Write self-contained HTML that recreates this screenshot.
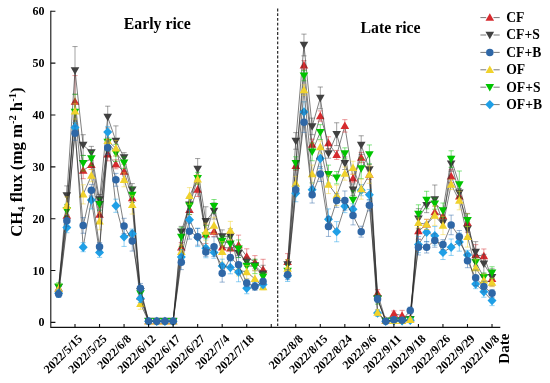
<!DOCTYPE html>
<html><head><meta charset="utf-8"><title>CH4 flux</title><style>html,body{margin:0;padding:0;background:#fff}svg{display:block}</style></head><body>
<svg width="550" height="383" viewBox="0 0 550 383" font-family="'Liberation Serif', serif" font-weight="bold" fill="#000">
<rect width="550" height="383" fill="#fff"/>
<line x1="277.7" y1="8.6" x2="277.7" y2="326" stroke="#111" stroke-width="1.1" stroke-dasharray="2.8 1.9"/>
<polyline points="58.65,288.18 66.83,215.59 75.00,101.52 83.18,170.48 91.36,164.78 99.53,214.55 107.71,154.41 115.89,164.26 124.07,171.52 132.24,197.96 140.42,296.47 148.60,321.10 156.77,321.10 164.95,321.10 173.13,321.10 181.31,247.22 189.48,209.89 197.66,189.66 205.84,234.25 214.01,231.66 222.19,247.22 230.37,248.25 238.54,245.14 246.72,256.55 254.90,262.25 263.07,269.51" fill="none" stroke="#2a2a2a" stroke-width="0.6" stroke-linejoin="round"/>
<path d="M58.65 284.58V291.78M56.05 284.58h5.2M56.05 291.78h5.2M66.83 210.50V220.68M64.23 210.50h5.2M64.23 220.68h5.2M75.00 75.59V127.44M72.40 75.59h5.2M72.40 127.44h5.2M83.18 162.28V178.68M80.58 162.28h5.2M80.58 178.68h5.2M91.36 160.18V169.37M88.76 160.18h5.2M88.76 169.37h5.2M99.53 207.07V222.03M96.94 207.07h5.2M96.94 222.03h5.2M107.71 147.98V160.83M105.11 147.98h5.2M105.11 160.83h5.2M115.89 159.75V168.77M113.29 159.75h5.2M113.29 168.77h5.2M124.07 164.21V178.82M121.47 164.21h5.2M121.47 178.82h5.2M132.24 193.58V202.34M129.64 193.58h5.2M129.64 202.34h5.2M140.42 292.53V300.42M137.82 292.53h5.2M137.82 300.42h5.2M148.60 320.33V321.88M146.00 320.33h5.2M146.00 321.88h5.2M156.77 320.33V321.88M154.17 320.33h5.2M154.17 321.88h5.2M164.95 320.33V321.88M162.35 320.33h5.2M162.35 321.88h5.2M173.13 320.33V321.88M170.53 320.33h5.2M170.53 321.88h5.2M181.31 242.63V251.80M178.71 242.63h5.2M178.71 251.80h5.2M189.48 205.17V214.60M186.88 205.17h5.2M186.88 214.60h5.2M197.66 182.87V196.45M195.06 182.87h5.2M195.06 196.45h5.2M205.84 224.96V243.55M203.24 224.96h5.2M203.24 243.55h5.2M214.01 226.74V236.58M211.41 226.74h5.2M211.41 236.58h5.2M222.19 241.68V252.75M219.59 241.68h5.2M219.59 252.75h5.2M230.37 240.20V256.31M227.77 240.20h5.2M227.77 256.31h5.2M238.54 235.10V255.19M235.94 235.10h5.2M235.94 255.19h5.2M246.72 248.81V264.29M244.12 248.81h5.2M244.12 264.29h5.2M254.90 255.64V268.87M252.30 255.64h5.2M252.30 268.87h5.2M263.07 259.29V279.74M260.47 259.29h5.2M260.47 279.74h5.2" fill="none" stroke="#d62a2e" stroke-width="0.65" stroke-opacity="0.75"/>
<path d="M54.35 291.38L62.95 291.38L58.65 283.88Z" fill="#d62a2e"/>
<path d="M62.53 218.79L71.13 218.79L66.83 211.29Z" fill="#d62a2e"/>
<path d="M70.70 104.72L79.30 104.72L75.00 97.22Z" fill="#d62a2e"/>
<path d="M78.88 173.68L87.48 173.68L83.18 166.18Z" fill="#d62a2e"/>
<path d="M87.06 167.98L95.66 167.98L91.36 160.48Z" fill="#d62a2e"/>
<path d="M95.23 217.75L103.83 217.75L99.53 210.25Z" fill="#d62a2e"/>
<path d="M103.41 157.61L112.01 157.61L107.71 150.11Z" fill="#d62a2e"/>
<path d="M111.59 167.46L120.19 167.46L115.89 159.96Z" fill="#d62a2e"/>
<path d="M119.77 174.72L128.37 174.72L124.07 167.22Z" fill="#d62a2e"/>
<path d="M127.94 201.16L136.54 201.16L132.24 193.66Z" fill="#d62a2e"/>
<path d="M136.12 299.67L144.72 299.67L140.42 292.17Z" fill="#d62a2e"/>
<path d="M144.30 324.30L152.90 324.30L148.60 316.80Z" fill="#d62a2e"/>
<path d="M152.47 324.30L161.07 324.30L156.77 316.80Z" fill="#d62a2e"/>
<path d="M160.65 324.30L169.25 324.30L164.95 316.80Z" fill="#d62a2e"/>
<path d="M168.83 324.30L177.43 324.30L173.13 316.80Z" fill="#d62a2e"/>
<path d="M177.00 250.42L185.61 250.42L181.31 242.92Z" fill="#d62a2e"/>
<path d="M185.18 213.09L193.78 213.09L189.48 205.59Z" fill="#d62a2e"/>
<path d="M193.36 192.86L201.96 192.86L197.66 185.36Z" fill="#d62a2e"/>
<path d="M201.54 237.45L210.14 237.45L205.84 229.95Z" fill="#d62a2e"/>
<path d="M209.71 234.86L218.31 234.86L214.01 227.36Z" fill="#d62a2e"/>
<path d="M217.89 250.42L226.49 250.42L222.19 242.92Z" fill="#d62a2e"/>
<path d="M226.07 251.45L234.67 251.45L230.37 243.95Z" fill="#d62a2e"/>
<path d="M234.24 248.34L242.84 248.34L238.54 240.84Z" fill="#d62a2e"/>
<path d="M242.42 259.75L251.02 259.75L246.72 252.25Z" fill="#d62a2e"/>
<path d="M250.60 265.45L259.20 265.45L254.90 257.95Z" fill="#d62a2e"/>
<path d="M258.77 272.71L267.38 272.71L263.07 265.21Z" fill="#d62a2e"/>
<polyline points="58.65,287.14 66.83,195.37 75.00,70.41 83.18,145.07 91.36,152.33 99.53,199.52 107.71,117.07 115.89,140.92 124.07,157.52 132.24,189.66 140.42,291.29 148.60,320.84 156.77,320.84 164.95,320.84 173.13,320.84 181.31,231.66 189.48,204.70 197.66,168.92 205.84,221.29 214.01,210.92 222.19,236.33 230.37,236.33 238.54,252.92 246.72,261.74 254.90,265.37 263.07,273.66" fill="none" stroke="#2a2a2a" stroke-width="0.6" stroke-linejoin="round"/>
<path d="M58.65 284.40V289.88M56.05 284.40h5.2M56.05 289.88h5.2M66.83 185.88V204.86M64.23 185.88h5.2M64.23 204.86h5.2M75.00 46.56V94.26M72.40 46.56h5.2M72.40 94.26h5.2M83.18 134.70V155.44M80.58 134.70h5.2M80.58 155.44h5.2M91.36 146.38V158.28M88.76 146.38h5.2M88.76 158.28h5.2M99.53 194.47V204.56M96.94 194.47h5.2M96.94 204.56h5.2M107.71 106.19V127.96M105.11 106.19h5.2M105.11 127.96h5.2M115.89 125.89V155.96M113.29 125.89h5.2M113.29 155.96h5.2M124.07 152.64V162.40M121.47 152.64h5.2M121.47 162.40h5.2M132.24 183.60V195.73M129.64 183.60h5.2M129.64 195.73h5.2M140.42 286.16V296.42M137.82 286.16h5.2M137.82 296.42h5.2M148.60 320.07V321.62M146.00 320.07h5.2M146.00 321.62h5.2M156.77 320.07V321.62M154.17 320.07h5.2M154.17 321.62h5.2M164.95 320.07V321.62M162.35 320.07h5.2M162.35 321.62h5.2M173.13 320.07V321.62M170.53 320.07h5.2M170.53 321.62h5.2M181.31 226.39V236.93M178.71 226.39h5.2M178.71 236.93h5.2M189.48 196.93V212.47M186.88 196.93h5.2M186.88 212.47h5.2M197.66 158.55V179.29M195.06 158.55h5.2M195.06 179.29h5.2M205.84 206.77V235.81M203.24 206.77h5.2M203.24 235.81h5.2M214.01 202.80V219.05M211.41 202.80h5.2M211.41 219.05h5.2M222.19 229.86V242.79M219.59 229.86h5.2M219.59 242.79h5.2M230.37 228.77V243.89M227.77 228.77h5.2M227.77 243.89h5.2M238.54 248.38V257.46M235.94 248.38h5.2M235.94 257.46h5.2M246.72 257.22V266.25M244.12 257.22h5.2M244.12 266.25h5.2M254.90 259.94V270.79M252.30 259.94h5.2M252.30 270.79h5.2M263.07 265.28V282.04M260.47 265.28h5.2M260.47 282.04h5.2" fill="none" stroke="#414141" stroke-width="0.65" stroke-opacity="0.75"/>
<path d="M54.35 283.94L62.95 283.94L58.65 291.44Z" fill="#414141"/>
<path d="M62.53 192.17L71.13 192.17L66.83 199.67Z" fill="#414141"/>
<path d="M70.70 67.21L79.30 67.21L75.00 74.71Z" fill="#414141"/>
<path d="M78.88 141.87L87.48 141.87L83.18 149.37Z" fill="#414141"/>
<path d="M87.06 149.13L95.66 149.13L91.36 156.63Z" fill="#414141"/>
<path d="M95.23 196.32L103.83 196.32L99.53 203.82Z" fill="#414141"/>
<path d="M103.41 113.87L112.01 113.87L107.71 121.37Z" fill="#414141"/>
<path d="M111.59 137.72L120.19 137.72L115.89 145.22Z" fill="#414141"/>
<path d="M119.77 154.32L128.37 154.32L124.07 161.82Z" fill="#414141"/>
<path d="M127.94 186.46L136.54 186.46L132.24 193.96Z" fill="#414141"/>
<path d="M136.12 288.09L144.72 288.09L140.42 295.59Z" fill="#414141"/>
<path d="M144.30 317.64L152.90 317.64L148.60 325.14Z" fill="#414141"/>
<path d="M152.47 317.64L161.07 317.64L156.77 325.14Z" fill="#414141"/>
<path d="M160.65 317.64L169.25 317.64L164.95 325.14Z" fill="#414141"/>
<path d="M168.83 317.64L177.43 317.64L173.13 325.14Z" fill="#414141"/>
<path d="M177.00 228.46L185.61 228.46L181.31 235.96Z" fill="#414141"/>
<path d="M185.18 201.50L193.78 201.50L189.48 209.00Z" fill="#414141"/>
<path d="M193.36 165.72L201.96 165.72L197.66 173.22Z" fill="#414141"/>
<path d="M201.54 218.09L210.14 218.09L205.84 225.59Z" fill="#414141"/>
<path d="M209.71 207.72L218.31 207.72L214.01 215.22Z" fill="#414141"/>
<path d="M217.89 233.13L226.49 233.13L222.19 240.63Z" fill="#414141"/>
<path d="M226.07 233.13L234.67 233.13L230.37 240.63Z" fill="#414141"/>
<path d="M234.24 249.72L242.84 249.72L238.54 257.22Z" fill="#414141"/>
<path d="M242.42 258.54L251.02 258.54L246.72 266.04Z" fill="#414141"/>
<path d="M250.60 262.17L259.20 262.17L254.90 269.67Z" fill="#414141"/>
<path d="M258.77 270.46L267.38 270.46L263.07 277.96Z" fill="#414141"/>
<polyline points="58.65,286.62 66.83,210.40 75.00,111.89 83.18,163.22 91.36,158.55 99.53,204.18 107.71,141.96 115.89,152.85 124.07,162.70 132.24,194.85 140.42,293.36 148.60,321.10 156.77,321.10 164.95,321.10 173.13,321.10 181.31,236.85 189.48,205.74 197.66,178.26 205.84,235.81 214.01,206.26 222.19,241.00 230.37,243.59 238.54,248.77 246.72,265.88 254.90,266.40 263.07,276.77" fill="none" stroke="#2a2a2a" stroke-width="0.6" stroke-linejoin="round"/>
<path d="M58.65 282.70V290.55M56.05 282.70h5.2M56.05 290.55h5.2M66.83 204.30V216.51M64.23 204.30h5.2M64.23 216.51h5.2M75.00 94.26V129.52M72.40 94.26h5.2M72.40 129.52h5.2M83.18 155.43V171.01M80.58 155.43h5.2M80.58 171.01h5.2M91.36 151.59V165.52M88.76 151.59h5.2M88.76 165.52h5.2M99.53 198.17V210.20M96.94 198.17h5.2M96.94 210.20h5.2M107.71 132.87V151.05M105.11 132.87h5.2M105.11 151.05h5.2M115.89 144.35V161.35M113.29 144.35h5.2M113.29 161.35h5.2M124.07 157.04V168.37M121.47 157.04h5.2M121.47 168.37h5.2M132.24 187.13V202.57M129.64 187.13h5.2M129.64 202.57h5.2M140.42 289.14V297.59M137.82 289.14h5.2M137.82 297.59h5.2M148.60 320.33V321.88M146.00 320.33h5.2M146.00 321.88h5.2M156.77 320.33V321.88M154.17 320.33h5.2M154.17 321.88h5.2M164.95 320.33V321.88M162.35 320.33h5.2M162.35 321.88h5.2M173.13 320.33V321.88M170.53 320.33h5.2M170.53 321.88h5.2M181.31 227.25V246.44M178.71 227.25h5.2M178.71 246.44h5.2M189.48 197.05V214.42M186.88 197.05h5.2M186.88 214.42h5.2M197.66 172.32V184.20M195.06 172.32h5.2M195.06 184.20h5.2M205.84 225.56V246.06M203.24 225.56h5.2M203.24 246.06h5.2M214.01 199.52V213.00M211.41 199.52h5.2M211.41 213.00h5.2M222.19 236.11V245.88M219.59 236.11h5.2M219.59 245.88h5.2M230.37 236.84V250.34M227.77 236.84h5.2M227.77 250.34h5.2M238.54 239.91V257.63M235.94 239.91h5.2M235.94 257.63h5.2M246.72 260.79V270.98M244.12 260.79h5.2M244.12 270.98h5.2M254.90 259.21V273.59M252.30 259.21h5.2M252.30 273.59h5.2M263.07 272.38V281.16M260.47 272.38h5.2M260.47 281.16h5.2" fill="none" stroke="#00c400" stroke-width="0.65" stroke-opacity="0.75"/>
<path d="M54.35 283.42L62.95 283.42L58.65 290.92Z" fill="#00c400"/>
<path d="M62.53 207.20L71.13 207.20L66.83 214.70Z" fill="#00c400"/>
<path d="M70.70 108.69L79.30 108.69L75.00 116.19Z" fill="#00c400"/>
<path d="M78.88 160.02L87.48 160.02L83.18 167.52Z" fill="#00c400"/>
<path d="M87.06 155.35L95.66 155.35L91.36 162.85Z" fill="#00c400"/>
<path d="M95.23 200.98L103.83 200.98L99.53 208.48Z" fill="#00c400"/>
<path d="M103.41 138.76L112.01 138.76L107.71 146.26Z" fill="#00c400"/>
<path d="M111.59 149.65L120.19 149.65L115.89 157.15Z" fill="#00c400"/>
<path d="M119.77 159.50L128.37 159.50L124.07 167.00Z" fill="#00c400"/>
<path d="M127.94 191.65L136.54 191.65L132.24 199.15Z" fill="#00c400"/>
<path d="M136.12 290.16L144.72 290.16L140.42 297.66Z" fill="#00c400"/>
<path d="M144.30 317.90L152.90 317.90L148.60 325.40Z" fill="#00c400"/>
<path d="M152.47 317.90L161.07 317.90L156.77 325.40Z" fill="#00c400"/>
<path d="M160.65 317.90L169.25 317.90L164.95 325.40Z" fill="#00c400"/>
<path d="M168.83 317.90L177.43 317.90L173.13 325.40Z" fill="#00c400"/>
<path d="M177.00 233.65L185.61 233.65L181.31 241.15Z" fill="#00c400"/>
<path d="M185.18 202.54L193.78 202.54L189.48 210.04Z" fill="#00c400"/>
<path d="M193.36 175.06L201.96 175.06L197.66 182.56Z" fill="#00c400"/>
<path d="M201.54 232.61L210.14 232.61L205.84 240.11Z" fill="#00c400"/>
<path d="M209.71 203.06L218.31 203.06L214.01 210.56Z" fill="#00c400"/>
<path d="M217.89 237.80L226.49 237.80L222.19 245.30Z" fill="#00c400"/>
<path d="M226.07 240.39L234.67 240.39L230.37 247.89Z" fill="#00c400"/>
<path d="M234.24 245.57L242.84 245.57L238.54 253.07Z" fill="#00c400"/>
<path d="M242.42 262.68L251.02 262.68L246.72 270.18Z" fill="#00c400"/>
<path d="M250.60 263.20L259.20 263.20L254.90 270.70Z" fill="#00c400"/>
<path d="M258.77 273.57L267.38 273.57L263.07 281.07Z" fill="#00c400"/>
<polyline points="58.65,288.70 66.83,205.74 75.00,111.37 83.18,194.33 91.36,175.66 99.53,221.29 107.71,140.92 115.89,148.18 124.07,179.81 132.24,204.70 140.42,303.73 148.60,321.36 156.77,321.36 164.95,321.36 173.13,321.36 181.31,251.88 189.48,195.89 197.66,179.29 205.84,231.66 214.01,225.44 222.19,251.88 230.37,230.63 238.54,270.03 246.72,272.11 254.90,278.85 263.07,287.14" fill="none" stroke="#2a2a2a" stroke-width="0.6" stroke-linejoin="round"/>
<path d="M58.65 284.03V293.37M56.05 284.03h5.2M56.05 293.37h5.2M66.83 196.83V214.64M64.23 196.83h5.2M64.23 214.64h5.2M75.00 103.66V119.08M72.40 103.66h5.2M72.40 119.08h5.2M83.18 184.74V203.93M80.58 184.74h5.2M80.58 203.93h5.2M91.36 169.56V181.76M88.76 169.56h5.2M88.76 181.76h5.2M99.53 212.82V229.77M96.94 212.82h5.2M96.94 229.77h5.2M107.71 133.08V148.77M105.11 133.08h5.2M105.11 148.77h5.2M115.89 140.43V155.94M113.29 140.43h5.2M113.29 155.94h5.2M124.07 172.83V186.80M121.47 172.83h5.2M121.47 186.80h5.2M132.24 195.33V214.07M129.64 195.33h5.2M129.64 214.07h5.2M140.42 298.20V309.27M137.82 298.20h5.2M137.82 309.27h5.2M148.60 320.59V322.14M146.00 320.59h5.2M146.00 322.14h5.2M156.77 320.59V322.14M154.17 320.59h5.2M154.17 322.14h5.2M164.95 320.59V322.14M162.35 320.59h5.2M162.35 322.14h5.2M173.13 320.59V322.14M170.53 320.59h5.2M170.53 322.14h5.2M181.31 244.79V258.98M178.71 244.79h5.2M178.71 258.98h5.2M189.48 187.61V204.17M186.88 187.61h5.2M186.88 204.17h5.2M197.66 174.77V183.82M195.06 174.77h5.2M195.06 183.82h5.2M205.84 223.15V240.18M203.24 223.15h5.2M203.24 240.18h5.2M214.01 217.27V233.61M211.41 217.27h5.2M211.41 233.61h5.2M222.19 241.56V262.21M219.59 241.56h5.2M219.59 262.21h5.2M230.37 221.36V239.89M227.77 221.36h5.2M227.77 239.89h5.2M238.54 264.11V275.95M235.94 264.11h5.2M235.94 275.95h5.2M246.72 265.56V278.65M244.12 265.56h5.2M244.12 278.65h5.2M254.90 270.54V287.15M252.30 270.54h5.2M252.30 287.15h5.2M263.07 284.48V289.80M260.47 284.48h5.2M260.47 289.80h5.2" fill="none" stroke="#f0d22c" stroke-width="0.65" stroke-opacity="0.75"/>
<path d="M54.35 291.90L62.95 291.90L58.65 284.40Z" fill="#f0d22c"/>
<path d="M62.53 208.94L71.13 208.94L66.83 201.44Z" fill="#f0d22c"/>
<path d="M70.70 114.57L79.30 114.57L75.00 107.07Z" fill="#f0d22c"/>
<path d="M78.88 197.53L87.48 197.53L83.18 190.03Z" fill="#f0d22c"/>
<path d="M87.06 178.86L95.66 178.86L91.36 171.36Z" fill="#f0d22c"/>
<path d="M95.23 224.49L103.83 224.49L99.53 216.99Z" fill="#f0d22c"/>
<path d="M103.41 144.12L112.01 144.12L107.71 136.62Z" fill="#f0d22c"/>
<path d="M111.59 151.38L120.19 151.38L115.89 143.88Z" fill="#f0d22c"/>
<path d="M119.77 183.01L128.37 183.01L124.07 175.51Z" fill="#f0d22c"/>
<path d="M127.94 207.90L136.54 207.90L132.24 200.40Z" fill="#f0d22c"/>
<path d="M136.12 306.93L144.72 306.93L140.42 299.43Z" fill="#f0d22c"/>
<path d="M144.30 324.56L152.90 324.56L148.60 317.06Z" fill="#f0d22c"/>
<path d="M152.47 324.56L161.07 324.56L156.77 317.06Z" fill="#f0d22c"/>
<path d="M160.65 324.56L169.25 324.56L164.95 317.06Z" fill="#f0d22c"/>
<path d="M168.83 324.56L177.43 324.56L173.13 317.06Z" fill="#f0d22c"/>
<path d="M177.00 255.08L185.61 255.08L181.31 247.58Z" fill="#f0d22c"/>
<path d="M185.18 199.09L193.78 199.09L189.48 191.59Z" fill="#f0d22c"/>
<path d="M193.36 182.49L201.96 182.49L197.66 174.99Z" fill="#f0d22c"/>
<path d="M201.54 234.86L210.14 234.86L205.84 227.36Z" fill="#f0d22c"/>
<path d="M209.71 228.64L218.31 228.64L214.01 221.14Z" fill="#f0d22c"/>
<path d="M217.89 255.08L226.49 255.08L222.19 247.58Z" fill="#f0d22c"/>
<path d="M226.07 233.83L234.67 233.83L230.37 226.33Z" fill="#f0d22c"/>
<path d="M234.24 273.23L242.84 273.23L238.54 265.73Z" fill="#f0d22c"/>
<path d="M242.42 275.31L251.02 275.31L246.72 267.81Z" fill="#f0d22c"/>
<path d="M250.60 282.05L259.20 282.05L254.90 274.55Z" fill="#f0d22c"/>
<path d="M258.77 290.34L267.38 290.34L263.07 282.84Z" fill="#f0d22c"/>
<polyline points="58.65,293.36 66.83,227.51 75.00,127.44 83.18,247.22 91.36,200.03 99.53,252.40 107.71,132.11 115.89,205.74 124.07,236.85 132.24,233.74 140.42,298.55 148.60,321.36 156.77,321.36 164.95,321.36 173.13,321.36 181.31,257.07 189.48,219.74 197.66,237.37 205.84,248.25 214.01,252.40 222.19,265.88 230.37,267.44 238.54,272.11 246.72,288.18 254.90,286.10 263.07,284.55" fill="none" stroke="#2a2a2a" stroke-width="0.6" stroke-linejoin="round"/>
<path d="M58.65 289.34V297.39M56.05 289.34h5.2M56.05 297.39h5.2M66.83 222.32V232.71M64.23 222.32h5.2M64.23 232.71h5.2M75.00 122.57V132.32M72.40 122.57h5.2M72.40 132.32h5.2M83.18 242.70V251.73M80.58 242.70h5.2M80.58 251.73h5.2M91.36 191.11V208.96M88.76 191.11h5.2M88.76 208.96h5.2M99.53 247.45V257.36M96.94 247.45h5.2M96.94 257.36h5.2M107.71 126.42V137.80M105.11 126.42h5.2M105.11 137.80h5.2M115.89 199.16V212.32M113.29 199.16h5.2M113.29 212.32h5.2M124.07 227.28V246.42M121.47 227.28h5.2M121.47 246.42h5.2M132.24 229.09V238.39M129.64 229.09h5.2M129.64 238.39h5.2M140.42 294.56V302.54M137.82 294.56h5.2M137.82 302.54h5.2M148.60 320.59V322.14M146.00 320.59h5.2M146.00 322.14h5.2M156.77 320.59V322.14M154.17 320.59h5.2M154.17 322.14h5.2M164.95 320.59V322.14M162.35 320.59h5.2M162.35 322.14h5.2M173.13 320.59V322.14M170.53 320.59h5.2M170.53 322.14h5.2M181.31 249.50V264.64M178.71 249.50h5.2M178.71 264.64h5.2M189.48 210.09V229.38M186.88 210.09h5.2M186.88 229.38h5.2M197.66 228.12V246.61M195.06 228.12h5.2M195.06 246.61h5.2M205.84 238.73V257.78M203.24 238.73h5.2M203.24 257.78h5.2M214.01 246.52V258.28M211.41 246.52h5.2M211.41 258.28h5.2M222.19 259.15V272.62M219.59 259.15h5.2M219.59 272.62h5.2M230.37 261.06V273.82M227.77 261.06h5.2M227.77 273.82h5.2M238.54 262.46V281.75M235.94 262.46h5.2M235.94 281.75h5.2M246.72 282.61V293.75M244.12 282.61h5.2M244.12 293.75h5.2M254.90 283.04V289.17M252.30 283.04h5.2M252.30 289.17h5.2M263.07 281.41V287.69M260.47 281.41h5.2M260.47 287.69h5.2" fill="none" stroke="#1f9fe6" stroke-width="0.65" stroke-opacity="0.75"/>
<path d="M54.15 293.36L58.65 288.66L63.15 293.36L58.65 298.06Z" fill="#1f9fe6"/>
<path d="M62.33 227.51L66.83 222.81L71.33 227.51L66.83 232.21Z" fill="#1f9fe6"/>
<path d="M70.50 127.44L75.00 122.74L79.50 127.44L75.00 132.14Z" fill="#1f9fe6"/>
<path d="M78.68 247.22L83.18 242.52L87.68 247.22L83.18 251.92Z" fill="#1f9fe6"/>
<path d="M86.86 200.03L91.36 195.33L95.86 200.03L91.36 204.73Z" fill="#1f9fe6"/>
<path d="M95.03 252.40L99.53 247.70L104.03 252.40L99.53 257.10Z" fill="#1f9fe6"/>
<path d="M103.21 132.11L107.71 127.41L112.21 132.11L107.71 136.81Z" fill="#1f9fe6"/>
<path d="M111.39 205.74L115.89 201.04L120.39 205.74L115.89 210.44Z" fill="#1f9fe6"/>
<path d="M119.57 236.85L124.07 232.15L128.57 236.85L124.07 241.55Z" fill="#1f9fe6"/>
<path d="M127.74 233.74L132.24 229.04L136.74 233.74L132.24 238.44Z" fill="#1f9fe6"/>
<path d="M135.92 298.55L140.42 293.85L144.92 298.55L140.42 303.25Z" fill="#1f9fe6"/>
<path d="M144.10 321.36L148.60 316.66L153.10 321.36L148.60 326.06Z" fill="#1f9fe6"/>
<path d="M152.27 321.36L156.77 316.66L161.27 321.36L156.77 326.06Z" fill="#1f9fe6"/>
<path d="M160.45 321.36L164.95 316.66L169.45 321.36L164.95 326.06Z" fill="#1f9fe6"/>
<path d="M168.63 321.36L173.13 316.66L177.63 321.36L173.13 326.06Z" fill="#1f9fe6"/>
<path d="M176.81 257.07L181.31 252.37L185.81 257.07L181.31 261.77Z" fill="#1f9fe6"/>
<path d="M184.98 219.74L189.48 215.04L193.98 219.74L189.48 224.44Z" fill="#1f9fe6"/>
<path d="M193.16 237.37L197.66 232.67L202.16 237.37L197.66 242.07Z" fill="#1f9fe6"/>
<path d="M201.34 248.25L205.84 243.55L210.34 248.25L205.84 252.95Z" fill="#1f9fe6"/>
<path d="M209.51 252.40L214.01 247.70L218.51 252.40L214.01 257.10Z" fill="#1f9fe6"/>
<path d="M217.69 265.88L222.19 261.18L226.69 265.88L222.19 270.58Z" fill="#1f9fe6"/>
<path d="M225.87 267.44L230.37 262.74L234.87 267.44L230.37 272.14Z" fill="#1f9fe6"/>
<path d="M234.04 272.11L238.54 267.41L243.04 272.11L238.54 276.81Z" fill="#1f9fe6"/>
<path d="M242.22 288.18L246.72 283.48L251.22 288.18L246.72 292.88Z" fill="#1f9fe6"/>
<path d="M250.40 286.10L254.90 281.40L259.40 286.10L254.90 290.80Z" fill="#1f9fe6"/>
<path d="M258.57 284.55L263.07 279.85L267.57 284.55L263.07 289.25Z" fill="#1f9fe6"/>
<polyline points="58.65,293.88 66.83,220.77 75.00,133.15 83.18,225.44 91.36,190.18 99.53,246.70 107.71,147.67 115.89,179.81 124.07,225.96 132.24,241.00 140.42,288.18 148.60,321.36 156.77,321.36 164.95,321.36 173.13,321.36 181.31,262.25 189.48,231.14 197.66,236.85 205.84,251.88 214.01,246.70 222.19,273.14 230.37,257.59 238.54,264.85 246.72,282.99 254.90,286.62 263.07,281.44" fill="none" stroke="#2a2a2a" stroke-width="0.6" stroke-linejoin="round"/>
<path d="M58.65 290.57V297.20M56.05 290.57h5.2M56.05 297.20h5.2M66.83 215.17V226.37M64.23 215.17h5.2M64.23 226.37h5.2M75.00 125.98V140.31M72.40 125.98h5.2M72.40 140.31h5.2M83.18 217.63V233.25M80.58 217.63h5.2M80.58 233.25h5.2M91.36 184.40V195.97M88.76 184.40h5.2M88.76 195.97h5.2M99.53 242.53V250.87M96.94 242.53h5.2M96.94 250.87h5.2M107.71 140.91V154.42M105.11 140.91h5.2M105.11 154.42h5.2M115.89 173.37V186.26M113.29 173.37h5.2M113.29 186.26h5.2M124.07 218.29V233.63M121.47 218.29h5.2M121.47 233.63h5.2M132.24 230.92V251.07M129.64 230.92h5.2M129.64 251.07h5.2M140.42 283.44V292.92M137.82 283.44h5.2M137.82 292.92h5.2M148.60 320.59V322.14M146.00 320.59h5.2M146.00 322.14h5.2M156.77 320.59V322.14M154.17 320.59h5.2M154.17 322.14h5.2M164.95 320.59V322.14M162.35 320.59h5.2M162.35 322.14h5.2M173.13 320.59V322.14M170.53 320.59h5.2M170.53 322.14h5.2M181.31 254.90V269.61M178.71 254.90h5.2M178.71 269.61h5.2M189.48 223.15V239.13M186.88 223.15h5.2M186.88 239.13h5.2M197.66 228.49V245.20M195.06 228.49h5.2M195.06 245.20h5.2M205.84 247.40V256.37M203.24 247.40h5.2M203.24 256.37h5.2M214.01 236.95V256.44M211.41 236.95h5.2M211.41 256.44h5.2M222.19 264.14V282.14M219.59 264.14h5.2M219.59 282.14h5.2M230.37 248.00V267.18M227.77 248.00h5.2M227.77 267.18h5.2M238.54 255.73V273.96M235.94 255.73h5.2M235.94 273.96h5.2M246.72 279.18V286.81M244.12 279.18h5.2M244.12 286.81h5.2M254.90 282.79V290.46M252.30 282.79h5.2M252.30 290.46h5.2M263.07 278.52V284.35M260.47 278.52h5.2M260.47 284.35h5.2" fill="none" stroke="#2f67a6" stroke-width="0.65" stroke-opacity="0.75"/>
<circle cx="58.65" cy="293.88" r="3.75" fill="#2f67a6"/>
<circle cx="66.83" cy="220.77" r="3.75" fill="#2f67a6"/>
<circle cx="75.00" cy="133.15" r="3.75" fill="#2f67a6"/>
<circle cx="83.18" cy="225.44" r="3.75" fill="#2f67a6"/>
<circle cx="91.36" cy="190.18" r="3.75" fill="#2f67a6"/>
<circle cx="99.53" cy="246.70" r="3.75" fill="#2f67a6"/>
<circle cx="107.71" cy="147.67" r="3.75" fill="#2f67a6"/>
<circle cx="115.89" cy="179.81" r="3.75" fill="#2f67a6"/>
<circle cx="124.07" cy="225.96" r="3.75" fill="#2f67a6"/>
<circle cx="132.24" cy="241.00" r="3.75" fill="#2f67a6"/>
<circle cx="140.42" cy="288.18" r="3.75" fill="#2f67a6"/>
<circle cx="148.60" cy="321.36" r="3.75" fill="#2f67a6"/>
<circle cx="156.77" cy="321.36" r="3.75" fill="#2f67a6"/>
<circle cx="164.95" cy="321.36" r="3.75" fill="#2f67a6"/>
<circle cx="173.13" cy="321.36" r="3.75" fill="#2f67a6"/>
<circle cx="181.31" cy="262.25" r="3.75" fill="#2f67a6"/>
<circle cx="189.48" cy="231.14" r="3.75" fill="#2f67a6"/>
<circle cx="197.66" cy="236.85" r="3.75" fill="#2f67a6"/>
<circle cx="205.84" cy="251.88" r="3.75" fill="#2f67a6"/>
<circle cx="214.01" cy="246.70" r="3.75" fill="#2f67a6"/>
<circle cx="222.19" cy="273.14" r="3.75" fill="#2f67a6"/>
<circle cx="230.37" cy="257.59" r="3.75" fill="#2f67a6"/>
<circle cx="238.54" cy="264.85" r="3.75" fill="#2f67a6"/>
<circle cx="246.72" cy="282.99" r="3.75" fill="#2f67a6"/>
<circle cx="254.90" cy="286.62" r="3.75" fill="#2f67a6"/>
<circle cx="263.07" cy="281.44" r="3.75" fill="#2f67a6"/>
<polyline points="287.61,261.74 295.78,165.81 303.96,65.22 312.14,144.55 320.31,116.04 328.49,143.00 336.67,154.92 344.84,125.89 353.02,178.26 361.20,157.52 369.38,174.63 377.55,293.36 385.73,320.33 393.91,313.59 402.08,315.66 410.26,318.25 418.44,231.14 426.61,224.40 434.79,211.96 442.97,216.11 451.15,176.18 459.32,196.40 467.50,222.85 475.68,254.99 483.85,256.03 492.03,278.85" fill="none" stroke="#2a2a2a" stroke-width="0.6" stroke-linejoin="round"/>
<path d="M287.61 253.64V269.83M285.01 253.64h5.2M285.01 269.83h5.2M295.78 161.28V170.35M293.18 161.28h5.2M293.18 170.35h5.2M303.96 60.66V69.79M301.36 60.66h5.2M301.36 69.79h5.2M312.14 139.11V150.00M309.54 139.11h5.2M309.54 150.00h5.2M320.31 110.88V121.19M317.71 110.88h5.2M317.71 121.19h5.2M328.49 136.74V149.26M325.89 136.74h5.2M325.89 149.26h5.2M336.67 150.45V159.40M334.07 150.45h5.2M334.07 159.40h5.2M344.84 119.67V132.11M342.24 119.67h5.2M342.24 132.11h5.2M353.02 174.11V182.41M350.42 174.11h5.2M350.42 182.41h5.2M361.20 152.43V162.61M358.60 152.43h5.2M358.60 162.61h5.2M369.38 169.85V179.41M366.78 169.85h5.2M366.78 179.41h5.2M377.55 289.64V297.09M374.95 289.64h5.2M374.95 297.09h5.2M385.73 319.55V321.10M383.13 319.55h5.2M383.13 321.10h5.2M393.91 310.91V316.26M391.31 310.91h5.2M391.31 316.26h5.2M402.08 310.35V320.97M399.48 310.35h5.2M399.48 320.97h5.2M410.26 317.47V319.03M407.66 317.47h5.2M407.66 319.03h5.2M418.44 223.18V239.11M415.84 223.18h5.2M415.84 239.11h5.2M426.61 219.33V229.48M424.01 219.33h5.2M424.01 229.48h5.2M434.79 206.24V217.68M432.19 206.24h5.2M432.19 217.68h5.2M442.97 209.80V222.42M440.37 209.80h5.2M440.37 222.42h5.2M451.15 169.77V182.60M448.55 169.77h5.2M448.55 182.60h5.2M459.32 191.49V201.32M456.72 191.49h5.2M456.72 201.32h5.2M467.50 213.42V232.28M464.90 213.42h5.2M464.90 232.28h5.2M475.68 244.67V265.32M473.08 244.67h5.2M473.08 265.32h5.2M483.85 248.98V263.08M481.25 248.98h5.2M481.25 263.08h5.2M492.03 271.69V286.00M489.43 271.69h5.2M489.43 286.00h5.2" fill="none" stroke="#d62a2e" stroke-width="0.65" stroke-opacity="0.75"/>
<path d="M283.31 264.94L291.91 264.94L287.61 257.44Z" fill="#d62a2e"/>
<path d="M291.48 169.01L300.08 169.01L295.78 161.51Z" fill="#d62a2e"/>
<path d="M299.66 68.42L308.26 68.42L303.96 60.92Z" fill="#d62a2e"/>
<path d="M307.84 147.75L316.44 147.75L312.14 140.25Z" fill="#d62a2e"/>
<path d="M316.01 119.24L324.61 119.24L320.31 111.74Z" fill="#d62a2e"/>
<path d="M324.19 146.20L332.79 146.20L328.49 138.70Z" fill="#d62a2e"/>
<path d="M332.37 158.12L340.97 158.12L336.67 150.62Z" fill="#d62a2e"/>
<path d="M340.54 129.09L349.14 129.09L344.84 121.59Z" fill="#d62a2e"/>
<path d="M348.72 181.46L357.32 181.46L353.02 173.96Z" fill="#d62a2e"/>
<path d="M356.90 160.72L365.50 160.72L361.20 153.22Z" fill="#d62a2e"/>
<path d="M365.08 177.83L373.68 177.83L369.38 170.33Z" fill="#d62a2e"/>
<path d="M373.25 296.56L381.85 296.56L377.55 289.06Z" fill="#d62a2e"/>
<path d="M381.43 323.53L390.03 323.53L385.73 316.03Z" fill="#d62a2e"/>
<path d="M389.61 316.79L398.21 316.79L393.91 309.29Z" fill="#d62a2e"/>
<path d="M397.78 318.86L406.38 318.86L402.08 311.36Z" fill="#d62a2e"/>
<path d="M405.96 321.45L414.56 321.45L410.26 313.95Z" fill="#d62a2e"/>
<path d="M414.14 234.34L422.74 234.34L418.44 226.84Z" fill="#d62a2e"/>
<path d="M422.31 227.60L430.91 227.60L426.61 220.10Z" fill="#d62a2e"/>
<path d="M430.49 215.16L439.09 215.16L434.79 207.66Z" fill="#d62a2e"/>
<path d="M438.67 219.31L447.27 219.31L442.97 211.81Z" fill="#d62a2e"/>
<path d="M446.85 179.38L455.45 179.38L451.15 171.88Z" fill="#d62a2e"/>
<path d="M455.02 199.60L463.62 199.60L459.32 192.10Z" fill="#d62a2e"/>
<path d="M463.20 226.05L471.80 226.05L467.50 218.55Z" fill="#d62a2e"/>
<path d="M471.38 258.19L479.98 258.19L475.68 250.69Z" fill="#d62a2e"/>
<path d="M479.55 259.23L488.15 259.23L483.85 251.73Z" fill="#d62a2e"/>
<path d="M487.73 282.05L496.33 282.05L492.03 274.55Z" fill="#d62a2e"/>
<polyline points="287.61,264.33 295.78,140.92 303.96,45.00 312.14,126.41 320.31,97.89 328.49,153.37 336.67,134.18 344.84,163.22 353.02,189.66 361.20,145.07 369.38,169.44 377.55,298.55 385.73,320.84 393.91,320.33 402.08,320.33 410.26,319.29 418.44,218.70 426.61,205.22 434.79,199.52 442.97,222.33 451.15,163.74 459.32,192.77 467.50,229.07 475.68,251.88 483.85,263.81 492.03,277.29" fill="none" stroke="#2a2a2a" stroke-width="0.6" stroke-linejoin="round"/>
<path d="M287.61 259.65V269.01M285.01 259.65h5.2M285.01 269.01h5.2M295.78 132.63V149.22M293.18 132.63h5.2M293.18 149.22h5.2M303.96 34.11V55.89M301.36 34.11h5.2M301.36 55.89h5.2M312.14 118.11V134.70M309.54 118.11h5.2M309.54 134.70h5.2M320.31 87.00V108.78M317.71 87.00h5.2M317.71 108.78h5.2M328.49 148.59V158.15M325.89 148.59h5.2M325.89 158.15h5.2M336.67 122.78V145.59M334.07 122.78h5.2M334.07 145.59h5.2M344.84 156.94V169.50M342.24 156.94h5.2M342.24 169.50h5.2M353.02 183.87V195.46M350.42 183.87h5.2M350.42 195.46h5.2M361.20 135.77V154.38M358.60 135.77h5.2M358.60 154.38h5.2M369.38 164.29V174.59M366.78 164.29h5.2M366.78 174.59h5.2M377.55 295.88V301.21M374.95 295.88h5.2M374.95 301.21h5.2M385.73 320.07V321.62M383.13 320.07h5.2M383.13 321.62h5.2M393.91 319.55V321.10M391.31 319.55h5.2M391.31 321.10h5.2M402.08 319.55V321.10M399.48 319.55h5.2M399.48 321.10h5.2M410.26 318.51V320.07M407.66 318.51h5.2M407.66 320.07h5.2M418.44 208.63V228.77M415.84 208.63h5.2M415.84 228.77h5.2M426.61 197.78V212.65M424.01 197.78h5.2M424.01 212.65h5.2M434.79 185.00V214.03M432.19 185.00h5.2M432.19 214.03h5.2M442.97 217.27V227.39M440.37 217.27h5.2M440.37 227.39h5.2M451.15 156.21V171.27M448.55 156.21h5.2M448.55 171.27h5.2M459.32 188.46V197.09M456.72 188.46h5.2M456.72 197.09h5.2M467.50 221.64V236.50M464.90 221.64h5.2M464.90 236.50h5.2M475.68 241.65V262.12M473.08 241.65h5.2M473.08 262.12h5.2M483.85 254.29V273.33M481.25 254.29h5.2M481.25 273.33h5.2M492.03 268.81V285.77M489.43 268.81h5.2M489.43 285.77h5.2" fill="none" stroke="#414141" stroke-width="0.65" stroke-opacity="0.75"/>
<path d="M283.31 261.13L291.91 261.13L287.61 268.63Z" fill="#414141"/>
<path d="M291.48 137.72L300.08 137.72L295.78 145.22Z" fill="#414141"/>
<path d="M299.66 41.80L308.26 41.80L303.96 49.30Z" fill="#414141"/>
<path d="M307.84 123.21L316.44 123.21L312.14 130.71Z" fill="#414141"/>
<path d="M316.01 94.69L324.61 94.69L320.31 102.19Z" fill="#414141"/>
<path d="M324.19 150.17L332.79 150.17L328.49 157.67Z" fill="#414141"/>
<path d="M332.37 130.98L340.97 130.98L336.67 138.48Z" fill="#414141"/>
<path d="M340.54 160.02L349.14 160.02L344.84 167.52Z" fill="#414141"/>
<path d="M348.72 186.46L357.32 186.46L353.02 193.96Z" fill="#414141"/>
<path d="M356.90 141.87L365.50 141.87L361.20 149.37Z" fill="#414141"/>
<path d="M365.08 166.24L373.68 166.24L369.38 173.74Z" fill="#414141"/>
<path d="M373.25 295.35L381.85 295.35L377.55 302.85Z" fill="#414141"/>
<path d="M381.43 317.64L390.03 317.64L385.73 325.14Z" fill="#414141"/>
<path d="M389.61 317.13L398.21 317.13L393.91 324.63Z" fill="#414141"/>
<path d="M397.78 317.13L406.38 317.13L402.08 324.63Z" fill="#414141"/>
<path d="M405.96 316.09L414.56 316.09L410.26 323.59Z" fill="#414141"/>
<path d="M414.14 215.50L422.74 215.50L418.44 223.00Z" fill="#414141"/>
<path d="M422.31 202.02L430.91 202.02L426.61 209.52Z" fill="#414141"/>
<path d="M430.49 196.32L439.09 196.32L434.79 203.82Z" fill="#414141"/>
<path d="M438.67 219.13L447.27 219.13L442.97 226.63Z" fill="#414141"/>
<path d="M446.85 160.54L455.45 160.54L451.15 168.04Z" fill="#414141"/>
<path d="M455.02 189.57L463.62 189.57L459.32 197.07Z" fill="#414141"/>
<path d="M463.20 225.87L471.80 225.87L467.50 233.37Z" fill="#414141"/>
<path d="M471.38 248.68L479.98 248.68L475.68 256.18Z" fill="#414141"/>
<path d="M479.55 260.61L488.15 260.61L483.85 268.11Z" fill="#414141"/>
<path d="M487.73 274.09L496.33 274.09L492.03 281.59Z" fill="#414141"/>
<polyline points="287.61,271.07 295.78,163.22 303.96,75.59 312.14,151.81 320.31,132.11 328.49,174.11 336.67,177.74 344.84,153.37 353.02,200.03 361.20,168.41 369.38,154.41 377.55,299.07 385.73,320.84 393.91,320.84 402.08,320.84 410.26,319.81 418.44,214.03 426.61,200.03 434.79,203.66 442.97,210.40 451.15,159.07 459.32,184.48 467.50,220.26 475.68,262.25 483.85,277.29 492.03,272.62" fill="none" stroke="#2a2a2a" stroke-width="0.6" stroke-linejoin="round"/>
<path d="M287.61 265.30V276.84M285.01 265.30h5.2M285.01 276.84h5.2M295.78 156.79V169.65M293.18 156.79h5.2M293.18 169.65h5.2M303.96 70.41V80.78M301.36 70.41h5.2M301.36 80.78h5.2M312.14 142.86V160.76M309.54 142.86h5.2M309.54 160.76h5.2M320.31 124.65V139.57M317.71 124.65h5.2M317.71 139.57h5.2M328.49 165.11V183.10M325.89 165.11h5.2M325.89 183.10h5.2M336.67 171.54V183.94M334.07 171.54h5.2M334.07 183.94h5.2M344.84 147.83V158.90M342.24 147.83h5.2M342.24 158.90h5.2M353.02 190.84V209.23M350.42 190.84h5.2M350.42 209.23h5.2M361.20 158.13V178.68M358.60 158.13h5.2M358.60 178.68h5.2M369.38 144.95V163.86M366.78 144.95h5.2M366.78 163.86h5.2M377.55 293.97V304.17M374.95 293.97h5.2M374.95 304.17h5.2M385.73 320.07V321.62M383.13 320.07h5.2M383.13 321.62h5.2M393.91 320.07V321.62M391.31 320.07h5.2M391.31 321.62h5.2M402.08 320.07V321.62M399.48 320.07h5.2M399.48 321.62h5.2M410.26 319.03V320.59M407.66 319.03h5.2M407.66 320.59h5.2M418.44 204.79V223.27M415.84 204.79h5.2M415.84 223.27h5.2M426.61 191.28V208.79M424.01 191.28h5.2M424.01 208.79h5.2M434.79 198.10V209.22M432.19 198.10h5.2M432.19 209.22h5.2M442.97 203.04V217.77M440.37 203.04h5.2M440.37 217.77h5.2M451.15 150.78V167.37M448.55 150.78h5.2M448.55 167.37h5.2M459.32 171.00V197.96M456.72 171.00h5.2M456.72 197.96h5.2M467.50 213.90V226.62M464.90 213.90h5.2M464.90 226.62h5.2M475.68 257.93V266.58M473.08 257.93h5.2M473.08 266.58h5.2M483.85 272.97V281.61M481.25 272.97h5.2M481.25 281.61h5.2M492.03 266.74V278.51M489.43 266.74h5.2M489.43 278.51h5.2" fill="none" stroke="#00c400" stroke-width="0.65" stroke-opacity="0.75"/>
<path d="M283.31 267.87L291.91 267.87L287.61 275.37Z" fill="#00c400"/>
<path d="M291.48 160.02L300.08 160.02L295.78 167.52Z" fill="#00c400"/>
<path d="M299.66 72.39L308.26 72.39L303.96 79.89Z" fill="#00c400"/>
<path d="M307.84 148.61L316.44 148.61L312.14 156.11Z" fill="#00c400"/>
<path d="M316.01 128.91L324.61 128.91L320.31 136.41Z" fill="#00c400"/>
<path d="M324.19 170.91L332.79 170.91L328.49 178.41Z" fill="#00c400"/>
<path d="M332.37 174.54L340.97 174.54L336.67 182.04Z" fill="#00c400"/>
<path d="M340.54 150.17L349.14 150.17L344.84 157.67Z" fill="#00c400"/>
<path d="M348.72 196.83L357.32 196.83L353.02 204.33Z" fill="#00c400"/>
<path d="M356.90 165.21L365.50 165.21L361.20 172.71Z" fill="#00c400"/>
<path d="M365.08 151.21L373.68 151.21L369.38 158.71Z" fill="#00c400"/>
<path d="M373.25 295.87L381.85 295.87L377.55 303.37Z" fill="#00c400"/>
<path d="M381.43 317.64L390.03 317.64L385.73 325.14Z" fill="#00c400"/>
<path d="M389.61 317.64L398.21 317.64L393.91 325.14Z" fill="#00c400"/>
<path d="M397.78 317.64L406.38 317.64L402.08 325.14Z" fill="#00c400"/>
<path d="M405.96 316.61L414.56 316.61L410.26 324.11Z" fill="#00c400"/>
<path d="M414.14 210.83L422.74 210.83L418.44 218.33Z" fill="#00c400"/>
<path d="M422.31 196.83L430.91 196.83L426.61 204.33Z" fill="#00c400"/>
<path d="M430.49 200.46L439.09 200.46L434.79 207.96Z" fill="#00c400"/>
<path d="M438.67 207.20L447.27 207.20L442.97 214.70Z" fill="#00c400"/>
<path d="M446.85 155.87L455.45 155.87L451.15 163.37Z" fill="#00c400"/>
<path d="M455.02 181.28L463.62 181.28L459.32 188.78Z" fill="#00c400"/>
<path d="M463.20 217.06L471.80 217.06L467.50 224.56Z" fill="#00c400"/>
<path d="M471.38 259.05L479.98 259.05L475.68 266.55Z" fill="#00c400"/>
<path d="M479.55 274.09L488.15 274.09L483.85 281.59Z" fill="#00c400"/>
<path d="M487.73 269.42L496.33 269.42L492.03 276.92Z" fill="#00c400"/>
<polyline points="287.61,275.73 295.78,193.29 303.96,111.89 312.14,189.66 320.31,158.55 328.49,219.22 336.67,231.66 344.84,206.26 353.02,209.37 361.20,190.18 369.38,194.85 377.55,313.07 385.73,321.36 393.91,320.84 402.08,320.84 410.26,320.33 418.44,244.62 426.61,232.18 434.79,235.81 442.97,252.40 451.15,247.22 459.32,242.03 467.50,254.99 475.68,284.03 483.85,291.81 492.03,300.62" fill="none" stroke="#2a2a2a" stroke-width="0.6" stroke-linejoin="round"/>
<path d="M287.61 269.97V281.50M285.01 269.97h5.2M285.01 281.50h5.2M295.78 184.84V201.75M293.18 184.84h5.2M293.18 201.75h5.2M303.96 101.79V121.99M301.36 101.79h5.2M301.36 121.99h5.2M312.14 182.73V196.59M309.54 182.73h5.2M309.54 196.59h5.2M320.31 148.58V168.53M317.71 148.58h5.2M317.71 168.53h5.2M328.49 208.92V229.51M325.89 208.92h5.2M325.89 229.51h5.2M336.67 221.57V241.75M334.07 221.57h5.2M334.07 241.75h5.2M344.84 199.84V212.67M342.24 199.84h5.2M342.24 212.67h5.2M353.02 203.85V214.89M350.42 203.85h5.2M350.42 214.89h5.2M361.20 184.62V195.74M358.60 184.62h5.2M358.60 195.74h5.2M369.38 189.48V200.22M366.78 189.48h5.2M366.78 200.22h5.2M377.55 309.84V316.30M374.95 309.84h5.2M374.95 316.30h5.2M385.73 320.59V322.14M383.13 320.59h5.2M383.13 322.14h5.2M393.91 320.07V321.62M391.31 320.07h5.2M391.31 321.62h5.2M402.08 320.07V321.62M399.48 320.07h5.2M399.48 321.62h5.2M410.26 319.55V321.10M407.66 319.55h5.2M407.66 321.10h5.2M418.44 236.59V252.66M415.84 236.59h5.2M415.84 252.66h5.2M426.61 222.43V241.93M424.01 222.43h5.2M424.01 241.93h5.2M434.79 226.43V245.19M432.19 226.43h5.2M432.19 245.19h5.2M442.97 245.27V259.53M440.37 245.27h5.2M440.37 259.53h5.2M451.15 239.01V255.43M448.55 239.01h5.2M448.55 255.43h5.2M459.32 232.91V251.16M456.72 232.91h5.2M456.72 251.16h5.2M467.50 250.32V259.67M464.90 250.32h5.2M464.90 259.67h5.2M475.68 279.38V288.68M473.08 279.38h5.2M473.08 288.68h5.2M483.85 286.39V297.23M481.25 286.39h5.2M481.25 297.23h5.2M492.03 295.60V305.65M489.43 295.60h5.2M489.43 305.65h5.2" fill="none" stroke="#1f9fe6" stroke-width="0.65" stroke-opacity="0.75"/>
<path d="M283.11 275.73L287.61 271.03L292.11 275.73L287.61 280.43Z" fill="#1f9fe6"/>
<path d="M291.28 193.29L295.78 188.59L300.28 193.29L295.78 197.99Z" fill="#1f9fe6"/>
<path d="M299.46 111.89L303.96 107.19L308.46 111.89L303.96 116.59Z" fill="#1f9fe6"/>
<path d="M307.64 189.66L312.14 184.96L316.64 189.66L312.14 194.36Z" fill="#1f9fe6"/>
<path d="M315.81 158.55L320.31 153.85L324.81 158.55L320.31 163.25Z" fill="#1f9fe6"/>
<path d="M323.99 219.22L328.49 214.52L332.99 219.22L328.49 223.92Z" fill="#1f9fe6"/>
<path d="M332.17 231.66L336.67 226.96L341.17 231.66L336.67 236.36Z" fill="#1f9fe6"/>
<path d="M340.34 206.26L344.84 201.56L349.34 206.26L344.84 210.96Z" fill="#1f9fe6"/>
<path d="M348.52 209.37L353.02 204.67L357.52 209.37L353.02 214.07Z" fill="#1f9fe6"/>
<path d="M356.70 190.18L361.20 185.48L365.70 190.18L361.20 194.88Z" fill="#1f9fe6"/>
<path d="M364.88 194.85L369.38 190.15L373.88 194.85L369.38 199.55Z" fill="#1f9fe6"/>
<path d="M373.05 313.07L377.55 308.37L382.05 313.07L377.55 317.77Z" fill="#1f9fe6"/>
<path d="M381.23 321.36L385.73 316.66L390.23 321.36L385.73 326.06Z" fill="#1f9fe6"/>
<path d="M389.41 320.84L393.91 316.14L398.41 320.84L393.91 325.54Z" fill="#1f9fe6"/>
<path d="M397.58 320.84L402.08 316.14L406.58 320.84L402.08 325.54Z" fill="#1f9fe6"/>
<path d="M405.76 320.33L410.26 315.63L414.76 320.33L410.26 325.03Z" fill="#1f9fe6"/>
<path d="M413.94 244.62L418.44 239.93L422.94 244.62L418.44 249.32Z" fill="#1f9fe6"/>
<path d="M422.11 232.18L426.61 227.48L431.11 232.18L426.61 236.88Z" fill="#1f9fe6"/>
<path d="M430.29 235.81L434.79 231.11L439.29 235.81L434.79 240.51Z" fill="#1f9fe6"/>
<path d="M438.47 252.40L442.97 247.70L447.47 252.40L442.97 257.10Z" fill="#1f9fe6"/>
<path d="M446.65 247.22L451.15 242.52L455.65 247.22L451.15 251.92Z" fill="#1f9fe6"/>
<path d="M454.82 242.03L459.32 237.33L463.82 242.03L459.32 246.73Z" fill="#1f9fe6"/>
<path d="M463.00 254.99L467.50 250.29L472.00 254.99L467.50 259.69Z" fill="#1f9fe6"/>
<path d="M471.18 284.03L475.68 279.33L480.18 284.03L475.68 288.73Z" fill="#1f9fe6"/>
<path d="M479.35 291.81L483.85 287.11L488.35 291.81L483.85 296.51Z" fill="#1f9fe6"/>
<path d="M487.53 300.62L492.03 295.92L496.53 300.62L492.03 305.32Z" fill="#1f9fe6"/>
<polyline points="287.61,268.48 295.78,183.44 303.96,90.11 312.14,174.11 320.31,147.15 328.49,184.48 336.67,195.37 344.84,173.59 353.02,167.89 361.20,189.15 369.38,174.63 377.55,312.55 385.73,320.84 393.91,320.84 402.08,320.84 410.26,319.81 418.44,222.85 426.61,224.40 434.79,215.59 442.97,225.44 451.15,184.48 459.32,200.55 467.50,236.85 475.68,267.96 483.85,280.40 492.03,282.48" fill="none" stroke="#2a2a2a" stroke-width="0.6" stroke-linejoin="round"/>
<path d="M287.61 259.66V277.29M285.01 259.66h5.2M285.01 277.29h5.2M295.78 176.32V190.56M293.18 176.32h5.2M293.18 190.56h5.2M303.96 84.85V95.37M301.36 84.85h5.2M301.36 95.37h5.2M312.14 165.05V183.17M309.54 165.05h5.2M309.54 183.17h5.2M320.31 140.93V153.36M317.71 140.93h5.2M317.71 153.36h5.2M328.49 175.35V193.61M325.89 175.35h5.2M325.89 193.61h5.2M336.67 185.17V205.56M334.07 185.17h5.2M334.07 205.56h5.2M344.84 166.98V180.20M342.24 166.98h5.2M342.24 180.20h5.2M353.02 161.24V174.53M350.42 161.24h5.2M350.42 174.53h5.2M361.20 179.11V199.18M358.60 179.11h5.2M358.60 199.18h5.2M369.38 165.97V183.29M366.78 165.97h5.2M366.78 183.29h5.2M377.55 309.43V315.67M374.95 309.43h5.2M374.95 315.67h5.2M385.73 320.07V321.62M383.13 320.07h5.2M383.13 321.62h5.2M393.91 320.07V321.62M391.31 320.07h5.2M391.31 321.62h5.2M402.08 320.07V321.62M399.48 320.07h5.2M399.48 321.62h5.2M410.26 319.03V320.59M407.66 319.03h5.2M407.66 320.59h5.2M418.44 217.91V227.79M415.84 217.91h5.2M415.84 227.79h5.2M426.61 219.32V229.49M424.01 219.32h5.2M424.01 229.49h5.2M434.79 205.81V225.37M432.19 205.81h5.2M432.19 225.37h5.2M442.97 216.27V234.61M440.37 216.27h5.2M440.37 234.61h5.2M451.15 179.42V189.54M448.55 179.42h5.2M448.55 189.54h5.2M459.32 191.26V209.84M456.72 191.26h5.2M456.72 209.84h5.2M467.50 226.60V247.09M464.90 226.60h5.2M464.90 247.09h5.2M475.68 259.72V276.20M473.08 259.72h5.2M473.08 276.20h5.2M483.85 274.07V286.73M481.25 274.07h5.2M481.25 286.73h5.2M492.03 278.18V286.77M489.43 278.18h5.2M489.43 286.77h5.2" fill="none" stroke="#f0d22c" stroke-width="0.65" stroke-opacity="0.75"/>
<path d="M283.31 271.68L291.91 271.68L287.61 264.18Z" fill="#f0d22c"/>
<path d="M291.48 186.64L300.08 186.64L295.78 179.14Z" fill="#f0d22c"/>
<path d="M299.66 93.31L308.26 93.31L303.96 85.81Z" fill="#f0d22c"/>
<path d="M307.84 177.31L316.44 177.31L312.14 169.81Z" fill="#f0d22c"/>
<path d="M316.01 150.35L324.61 150.35L320.31 142.85Z" fill="#f0d22c"/>
<path d="M324.19 187.68L332.79 187.68L328.49 180.18Z" fill="#f0d22c"/>
<path d="M332.37 198.57L340.97 198.57L336.67 191.07Z" fill="#f0d22c"/>
<path d="M340.54 176.79L349.14 176.79L344.84 169.29Z" fill="#f0d22c"/>
<path d="M348.72 171.09L357.32 171.09L353.02 163.59Z" fill="#f0d22c"/>
<path d="M356.90 192.35L365.50 192.35L361.20 184.85Z" fill="#f0d22c"/>
<path d="M365.08 177.83L373.68 177.83L369.38 170.33Z" fill="#f0d22c"/>
<path d="M373.25 315.75L381.85 315.75L377.55 308.25Z" fill="#f0d22c"/>
<path d="M381.43 324.04L390.03 324.04L385.73 316.54Z" fill="#f0d22c"/>
<path d="M389.61 324.04L398.21 324.04L393.91 316.54Z" fill="#f0d22c"/>
<path d="M397.78 324.04L406.38 324.04L402.08 316.54Z" fill="#f0d22c"/>
<path d="M405.96 323.01L414.56 323.01L410.26 315.51Z" fill="#f0d22c"/>
<path d="M414.14 226.05L422.74 226.05L418.44 218.55Z" fill="#f0d22c"/>
<path d="M422.31 227.60L430.91 227.60L426.61 220.10Z" fill="#f0d22c"/>
<path d="M430.49 218.79L439.09 218.79L434.79 211.29Z" fill="#f0d22c"/>
<path d="M438.67 228.64L447.27 228.64L442.97 221.14Z" fill="#f0d22c"/>
<path d="M446.85 187.68L455.45 187.68L451.15 180.18Z" fill="#f0d22c"/>
<path d="M455.02 203.75L463.62 203.75L459.32 196.25Z" fill="#f0d22c"/>
<path d="M463.20 240.05L471.80 240.05L467.50 232.55Z" fill="#f0d22c"/>
<path d="M471.38 271.16L479.98 271.16L475.68 263.66Z" fill="#f0d22c"/>
<path d="M479.55 283.60L488.15 283.60L483.85 276.10Z" fill="#f0d22c"/>
<path d="M487.73 285.68L496.33 285.68L492.03 278.18Z" fill="#f0d22c"/>
<polyline points="287.61,274.70 295.78,189.66 303.96,122.26 312.14,194.85 320.31,174.11 328.49,226.48 336.67,200.55 344.84,200.55 353.02,215.59 361.20,231.66 369.38,205.22 377.55,299.07 385.73,321.36 393.91,319.81 402.08,320.33 410.26,310.47 418.44,247.22 426.61,247.22 434.79,240.48 442.97,244.62 451.15,224.92 459.32,236.85 467.50,260.70 475.68,277.81 483.85,286.62 492.03,293.36" fill="none" stroke="#2a2a2a" stroke-width="0.6" stroke-linejoin="round"/>
<path d="M287.61 269.74V279.66M285.01 269.74h5.2M285.01 279.66h5.2M295.78 185.43V193.90M293.18 185.43h5.2M293.18 193.90h5.2M303.96 112.07V132.45M301.36 112.07h5.2M301.36 132.45h5.2M312.14 186.66V203.04M309.54 186.66h5.2M309.54 203.04h5.2M320.31 166.68V181.53M317.71 166.68h5.2M317.71 181.53h5.2M328.49 216.52V236.43M325.89 216.52h5.2M325.89 236.43h5.2M336.67 193.71V207.40M334.07 193.71h5.2M334.07 207.40h5.2M344.84 190.98V210.12M342.24 190.98h5.2M342.24 210.12h5.2M353.02 206.30V224.88M350.42 206.30h5.2M350.42 224.88h5.2M361.20 226.20V237.12M358.60 226.20h5.2M358.60 237.12h5.2M369.38 199.50V210.93M366.78 199.50h5.2M366.78 210.93h5.2M377.55 295.56V302.57M374.95 295.56h5.2M374.95 302.57h5.2M385.73 320.59V322.14M383.13 320.59h5.2M383.13 322.14h5.2M393.91 319.03V320.59M391.31 319.03h5.2M391.31 320.59h5.2M402.08 319.55V321.10M399.48 319.55h5.2M399.48 321.10h5.2M410.26 307.13V313.82M407.66 307.13h5.2M407.66 313.82h5.2M418.44 239.42V255.01M415.84 239.42h5.2M415.84 255.01h5.2M426.61 241.46V252.98M424.01 241.46h5.2M424.01 252.98h5.2M434.79 233.72V247.23M432.19 233.72h5.2M432.19 247.23h5.2M442.97 239.66V249.59M440.37 239.66h5.2M440.37 249.59h5.2M451.15 215.11V234.73M448.55 215.11h5.2M448.55 234.73h5.2M459.32 230.50V243.20M456.72 230.50h5.2M456.72 243.20h5.2M467.50 253.70V267.70M464.90 253.70h5.2M464.90 267.70h5.2M475.68 270.03V285.59M473.08 270.03h5.2M473.08 285.59h5.2M483.85 281.22V292.03M481.25 281.22h5.2M481.25 292.03h5.2M492.03 289.46V297.27M489.43 289.46h5.2M489.43 297.27h5.2" fill="none" stroke="#2f67a6" stroke-width="0.65" stroke-opacity="0.75"/>
<circle cx="287.61" cy="274.70" r="3.75" fill="#2f67a6"/>
<circle cx="295.78" cy="189.66" r="3.75" fill="#2f67a6"/>
<circle cx="303.96" cy="122.26" r="3.75" fill="#2f67a6"/>
<circle cx="312.14" cy="194.85" r="3.75" fill="#2f67a6"/>
<circle cx="320.31" cy="174.11" r="3.75" fill="#2f67a6"/>
<circle cx="328.49" cy="226.48" r="3.75" fill="#2f67a6"/>
<circle cx="336.67" cy="200.55" r="3.75" fill="#2f67a6"/>
<circle cx="344.84" cy="200.55" r="3.75" fill="#2f67a6"/>
<circle cx="353.02" cy="215.59" r="3.75" fill="#2f67a6"/>
<circle cx="361.20" cy="231.66" r="3.75" fill="#2f67a6"/>
<circle cx="369.38" cy="205.22" r="3.75" fill="#2f67a6"/>
<circle cx="377.55" cy="299.07" r="3.75" fill="#2f67a6"/>
<circle cx="385.73" cy="321.36" r="3.75" fill="#2f67a6"/>
<circle cx="393.91" cy="319.81" r="3.75" fill="#2f67a6"/>
<circle cx="402.08" cy="320.33" r="3.75" fill="#2f67a6"/>
<circle cx="410.26" cy="310.47" r="3.75" fill="#2f67a6"/>
<circle cx="418.44" cy="247.22" r="3.75" fill="#2f67a6"/>
<circle cx="426.61" cy="247.22" r="3.75" fill="#2f67a6"/>
<circle cx="434.79" cy="240.48" r="3.75" fill="#2f67a6"/>
<circle cx="442.97" cy="244.62" r="3.75" fill="#2f67a6"/>
<circle cx="451.15" cy="224.92" r="3.75" fill="#2f67a6"/>
<circle cx="459.32" cy="236.85" r="3.75" fill="#2f67a6"/>
<circle cx="467.50" cy="260.70" r="3.75" fill="#2f67a6"/>
<circle cx="475.68" cy="277.81" r="3.75" fill="#2f67a6"/>
<circle cx="483.85" cy="286.62" r="3.75" fill="#2f67a6"/>
<circle cx="492.03" cy="293.36" r="3.75" fill="#2f67a6"/>
<path d="M50.8 10.8V327.4H500.3" fill="none" stroke="#111" stroke-width="1.1"/>
<path d="M50.8 322.40h4.6M50.8 270.55h4.6M50.8 218.70h4.6M50.8 166.85h4.6M50.8 115.00h4.6M50.8 63.15h4.6M50.8 11.30h4.6M75.00 327.4v-3.4M99.53 327.4v-3.4M124.06 327.4v-3.4M148.59 327.4v-3.4M173.12 327.4v-3.4M197.65 327.4v-3.4M222.18 327.4v-3.4M246.71 327.4v-3.4M271.24 327.4v-3.4M295.77 327.4v-3.4M320.30 327.4v-3.4M344.83 327.4v-3.4M369.36 327.4v-3.4M393.89 327.4v-3.4M418.42 327.4v-3.4M442.95 327.4v-3.4M467.48 327.4v-3.4M492.01 327.4v-3.4" fill="none" stroke="#111" stroke-width="1.1"/>
<text x="44.6" y="326.40" font-size="12" text-anchor="end">0</text>
<text x="44.6" y="274.55" font-size="12" text-anchor="end">10</text>
<text x="44.6" y="222.70" font-size="12" text-anchor="end">20</text>
<text x="44.6" y="170.85" font-size="12" text-anchor="end">30</text>
<text x="44.6" y="119.00" font-size="12" text-anchor="end">40</text>
<text x="44.6" y="67.15" font-size="12" text-anchor="end">50</text>
<text x="44.6" y="15.30" font-size="12" text-anchor="end">60</text>
<text transform="translate(83.00 339.5) rotate(-45)" font-size="12" text-anchor="end">2022/5/15</text>
<text transform="translate(107.53 339.5) rotate(-45)" font-size="12" text-anchor="end">2022/5/25</text>
<text transform="translate(132.06 339.5) rotate(-45)" font-size="12" text-anchor="end">2022/6/8</text>
<text transform="translate(156.59 339.5) rotate(-45)" font-size="12" text-anchor="end">2022/6/12</text>
<text transform="translate(181.12 339.5) rotate(-45)" font-size="12" text-anchor="end">2022/6/17</text>
<text transform="translate(205.65 339.5) rotate(-45)" font-size="12" text-anchor="end">2022/6/27</text>
<text transform="translate(230.18 339.5) rotate(-45)" font-size="12" text-anchor="end">2022/7/4</text>
<text transform="translate(254.71 339.5) rotate(-45)" font-size="12" text-anchor="end">2022/7/18</text>
<text transform="translate(303.77 339.5) rotate(-45)" font-size="12" text-anchor="end">2022/8/8</text>
<text transform="translate(328.30 339.5) rotate(-45)" font-size="12" text-anchor="end">2022/8/15</text>
<text transform="translate(352.83 339.5) rotate(-45)" font-size="12" text-anchor="end">2022/8/24</text>
<text transform="translate(377.36 339.5) rotate(-45)" font-size="12" text-anchor="end">2022/9/6</text>
<text transform="translate(401.89 339.5) rotate(-45)" font-size="12" text-anchor="end">2022/9/11</text>
<text transform="translate(426.42 339.5) rotate(-45)" font-size="12" text-anchor="end">2022/9/18</text>
<text transform="translate(450.95 339.5) rotate(-45)" font-size="12" text-anchor="end">2022/9/26</text>
<text transform="translate(475.48 339.5) rotate(-45)" font-size="12" text-anchor="end">2022/9/29</text>
<text transform="translate(500.01 339.5) rotate(-45)" font-size="12" text-anchor="end">2022/10/8</text>
<text x="157.3" y="28.6" font-size="15.8" text-anchor="middle">Early rice</text>
<text x="390.6" y="33.4" font-size="15.8" text-anchor="middle">Late rice</text>
<text transform="translate(509 363.7) rotate(-90)" font-size="15">Date</text>
<text transform="translate(21.6 236.8) rotate(-90)" font-size="16.75">CH<tspan font-size="10.5" dy="3.5">4</tspan><tspan dy="-3.5"> flux (mg m</tspan><tspan font-size="10.5" dy="-6">-2</tspan><tspan dy="6"> h</tspan><tspan font-size="10.5" dy="-6">-1</tspan><tspan dy="6">)</tspan></text>
<path d="M480.4 17.60H486.2M493.5 17.60H499.7" stroke="#555" stroke-width="0.8"/>
<path d="M485.50 20.80L494.10 20.80L489.80 13.30Z" fill="#d62a2e"/>
<text x="506.3" y="22.00" font-size="13.6">CF</text>
<path d="M480.4 35.00H486.2M493.5 35.00H499.7" stroke="#555" stroke-width="0.8"/>
<path d="M485.50 31.80L494.10 31.80L489.80 39.30Z" fill="#414141"/>
<text x="506.3" y="39.40" font-size="13.6">CF+S</text>
<path d="M480.4 52.40H486.2M493.5 52.40H499.7" stroke="#555" stroke-width="0.8"/>
<circle cx="489.80" cy="52.40" r="3.75" fill="#2f67a6"/>
<text x="506.3" y="56.80" font-size="13.6">CF+B</text>
<path d="M480.4 69.80H486.2M493.5 69.80H499.7" stroke="#555" stroke-width="0.8"/>
<path d="M485.50 73.00L494.10 73.00L489.80 65.50Z" fill="#f0d22c"/>
<text x="506.3" y="74.20" font-size="13.6">OF</text>
<path d="M480.4 87.20H486.2M493.5 87.20H499.7" stroke="#555" stroke-width="0.8"/>
<path d="M485.50 84.00L494.10 84.00L489.80 91.50Z" fill="#00c400"/>
<text x="506.3" y="91.60" font-size="13.6">OF+S</text>
<path d="M480.4 104.60H486.2M493.5 104.60H499.7" stroke="#555" stroke-width="0.8"/>
<path d="M485.30 104.60L489.80 99.90L494.30 104.60L489.80 109.30Z" fill="#1f9fe6"/>
<text x="506.3" y="109.00" font-size="13.6">OF+B</text>
</svg>
</body></html>
